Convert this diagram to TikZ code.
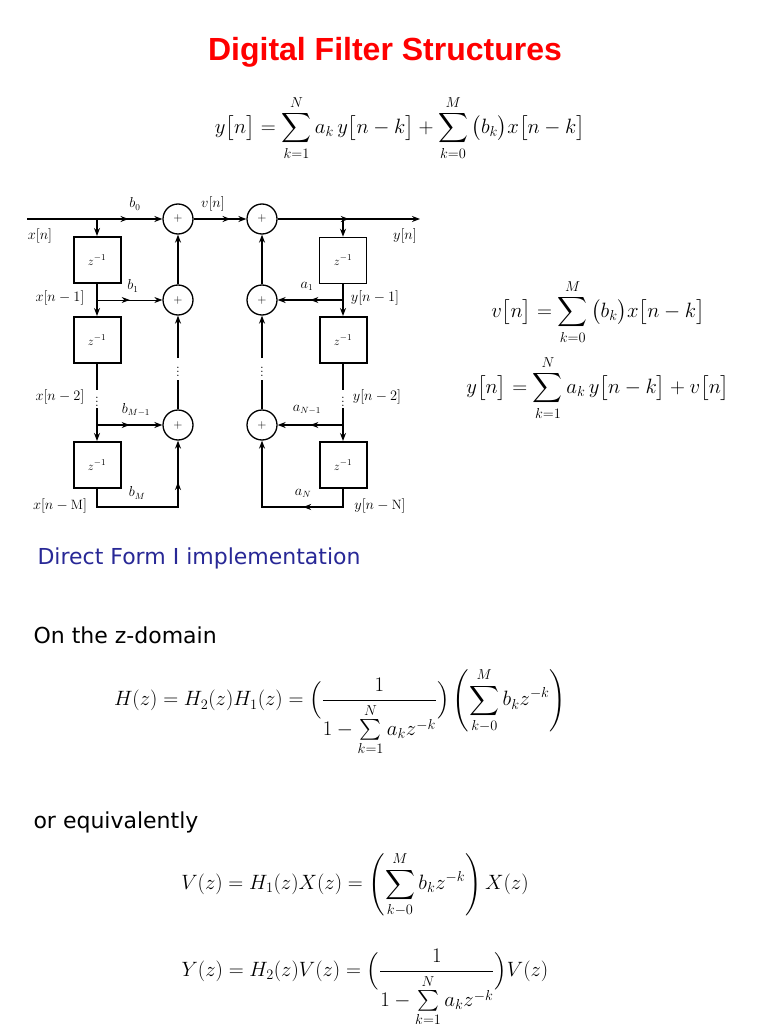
\documentclass[tikz,border=0pt]{standalone}
\usepackage{amsmath}
\usepackage{fontspec}
\newfontfamily\titlefont{Liberation Sans}
\newfontfamily\bodyfont{DejaVu Sans}
\usetikzlibrary{arrows.meta,decorations.markings,calc}
\begin{document}
\begin{tikzpicture}[x=1pt,y=-1pt,
  sig/.style={line width=1.9pt},
  thin sig/.style={line width=0.8pt},
  tip/.style={-{Stealth[length=8pt,width=6pt]}},
  mid/.style={postaction={decorate},decoration={markings,mark=at position #1 with {\arrow{Stealth[length=8pt,width=6pt]}}}},
  adder/.style={circle,draw,line width=1.3pt,minimum size=30pt,inner sep=0pt,font=\fontsize{12}{13}\selectfont},
  delay/.style={draw,line width=2pt,minimum width=47pt,minimum height=46pt,inner sep=0pt,font=\fontsize{13}{14}\selectfont},
  lab/.style={font=\fontsize{13.5}{14}\selectfont,inner sep=1pt},
  eq/.style={font=\fontsize{22}{26}\selectfont},
  txt/.style={font=\bodyfont\fontsize{22}{26}\selectfont,anchor=west}]
\useasboundingbox (0,0) rectangle (768,1024);
\clip (0,0) rectangle (768,1024);
\node[font=\titlefont\bfseries\fontsize{32}{36}\selectfont,text=red] (title) at (385,52) {Digital Filter Structures};
\node[eq] (e1) at (400,128) {$\displaystyle y\big[n\big]=\sum_{k=1}^{N}a_k\,y\big[n-k\big]+\sum_{k=0}^{M}\big(b_k\big)x\big[n-k\big]$};
% diagram
\node[adder] (s0) at (178,219) {$+$};
\node[adder] (s1) at (178,300) {$+$};
\node[adder] (s2) at (178,425) {$+$};
\node[adder] (t0) at (262,219) {$+$};
\node[adder] (t1) at (262,300) {$+$};
\node[adder] (t2) at (262,425) {$+$};
\node[delay] (dL1) at (97,260) {$z^{-1}$};
\node[delay] (dL2) at (97,340) {$z^{-1}$};
\node[delay] (dL3) at (97,465) {$z^{-1}$};
\node[delay,line width=0.6pt] (dR1) at (343,260) {$z^{-1}$};
\node[delay] (dR2) at (343,340) {$z^{-1}$};
\node[delay] (dR3) at (343,465) {$z^{-1}$};
\coordinate (xin) at (27,219);
\coordinate (yout) at (420,219);
\coordinate (bx0) at (97,219);
\coordinate (bx1) at (97,300);
\coordinate (bx2) at (97,425);
\coordinate (bxM) at (97,507);
\coordinate (cxM) at (178,507);
\coordinate (by0) at (343,219);
\coordinate (by1) at (343,300);
\coordinate (by2) at (343,425);
\coordinate (byN) at (343,507);
\coordinate (cyN) at (262,507);
\coordinate (lA) at (97,390); \coordinate (lB) at (97,408);
\coordinate (mA) at (178,380); \coordinate (mB) at (178,358);
\coordinate (nA) at (262,380); \coordinate (nB) at (262,358);
\coordinate (rA) at (343,390); \coordinate (rB) at (343,408);
\draw[sig,tip,mid=0.75] (xin) -- (s0);
\draw[sig,tip,mid=0.7] (s0) -- (t0);
\draw[sig,tip,mid=0.5] (t0) -- (yout);
\draw[sig,tip] (bx0) -- (dL1);
\draw[sig,tip] (dL1) -- (dL2);
\draw[thin sig,tip,mid=0.5] (bx1) -- (s1);
\draw[sig] (dL2) -- (lA);
\draw[sig,tip] (lB) -- (dL3);
\draw[sig,tip,mid=0.5] (bx2) -- (s2);
\draw[sig,tip,mid=0.75] (dL3) -- (bxM) -- (cxM) -- (s2);
\draw[sig] (s2) -- (mA);
\draw[sig,tip] (mB) -- (s1);
\draw[sig,tip] (s1) -- (s0);
\draw[sig,tip] (by0) -- (dR1);
\draw[sig,tip] (dR1) -- (dR2);
\draw[sig,tip,mid=0.5] (by1) -- (t1);
\draw[sig] (dR2) -- (rA);
\draw[sig,tip] (rB) -- (dR3);
\draw[sig,tip,mid=0.5] (by2) -- (t2);
\draw[sig,tip,mid=0.35] (dR3) -- (byN) -- (cyN) -- (t2);
\draw[sig] (t2) -- (nA);
\draw[sig,tip] (nB) -- (t1);
\draw[sig,tip] (t1) -- (t0);
\foreach \p/\q in {lA/lB,mB/mA,nB/nA,rA/rB}{\node[lab] at ($(\p)!0.5!(\q)$) {$\vdots$};}
\node[lab] (l1) at (40,236) {$x[n]$};
\node[lab] (l2) at (135,204) {$b_0$};
\node[lab] (l3) at (213,204) {$v[n]$};
\node[lab] (l4) at (405,236) {$y[n]$};
\node[lab] (l5) at (133,286) {$b_1$};
\node[lab] (l6) at (60,298) {$x[n-1]$};
\node[lab] (l7) at (307,286) {$a_1$};
\node[lab] (l8) at (375,298) {$y[n-1]$};
\node[lab] (l9) at (60,397) {$x[n-2]$};
\node[lab] (l10) at (136,410) {$b_{M-1}$};
\node[lab] (l11) at (307,410) {$a_{N-1}$};
\node[lab] (l12) at (377,397) {$y[n-2]$};
\node[lab] (l13) at (60,506) {$x[n-\mathrm{M}]$};
\node[lab] (l14) at (137,493) {$b_M$};
\node[lab] (l15) at (303,493) {$a_N$};
\node[lab] (l16) at (380,506) {$y[n-\mathrm{N}]$};
\node[eq] (e2) at (598,312) {$\displaystyle v\big[n\big]=\sum_{k=0}^{M}\big(b_k\big)x\big[n-k\big]$};
\node[eq] (e3) at (598,388) {$\displaystyle y\big[n\big]=\sum_{k=1}^{N}a_k\,y\big[n-k\big]+v\big[n\big]$};
\node[txt,text={rgb,255:red,40;green,40;blue,150}] (t1x) at (34,558) {Direct Form I implementation};
\node[txt] (t2x) at (30,635) {On the z-domain};
\node[eq] (e4) at (340,712) {$\displaystyle H(z)=H_2(z)H_1(z)=\Big(\frac{1}{1-\sum\limits_{k=1}^{N}a_k z^{-k}}\Big)\left(\sum_{k-0}^{M}b_k z^{-k}\right)$};
\node[txt] (t3x) at (30,822) {or equivalently};
\node[eq] (e5) at (355,885) {$\displaystyle V(z)=H_1(z)X(z)=\left(\sum_{k-0}^{M}b_k z^{-k}\right)X(z)$};
\node[eq] (e6) at (365,988) {$\displaystyle Y(z)=H_2(z)V(z)=\Big(\frac{1}{1-\sum\limits_{k=1}^{N}a_k z^{-k}}\Big)V(z)$};
\end{tikzpicture}
\end{document}
